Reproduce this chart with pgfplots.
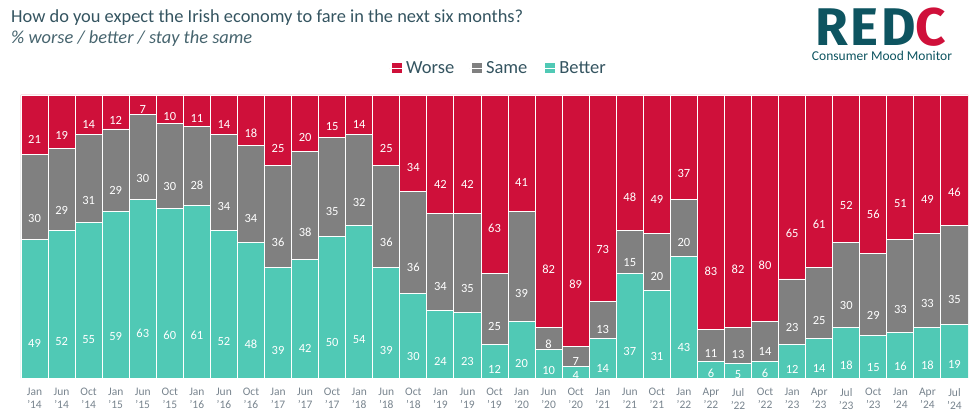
\documentclass[border=0pt]{standalone}
\usepackage{fontspec}
\setmainfont{Carlito}
\newfontfamily\logofont[LetterSpace=5]{Fira Sans}
\usepackage{pgfplots}
\pgfplotsset{compat=1.18}
\usepackage{pgfplotstable}
\definecolor{worse}{RGB}{207,16,58}
\definecolor{same}{RGB}{128,128,128}
\definecolor{better}{RGB}{80,201,181}
\definecolor{titlecol}{RGB}{52,84,96}
\definecolor{subcol}{RGB}{70,100,110}
\definecolor{tickcol}{RGB}{120,132,142}
\definecolor{logoteal}{RGB}{13,84,96}

\pgfplotstableread{
idx better same worse
0 49 30 21
1 52 29 19
2 55 31 14
3 59 29 12
4 63 30 7
5 60 30 10
6 61 28 11
7 52 34 14
8 48 34 18
9 39 36 25
10 42 38 20
11 50 35 15
12 54 32 14
13 39 36 25
14 30 36 34
15 24 34 42
16 23 35 42
17 12 25 63
18 20 39 41
19 10 8 82
20 4 7 89
21 14 13 73
22 37 15 48
23 31 20 49
24 43 20 37
25 6 11 83
26 5 13 82
27 6 14 80
28 12 23 65
29 14 25 61
30 18 30 52
31 15 29 56
32 16 33 51
33 18 33 49
34 19 35 46
}\data

\begin{document}
\begin{tikzpicture}
\begin{axis}[
  name=ax,
  at={(21pt,40pt)}, anchor=south west,
  scale only axis,
  width=947pt, height=283pt,
  ybar stacked,
  bar width=1,
  xmin=-0.5, xmax=34.5,
  ymin=0, ymax=100,
  enlargelimits=false,
  axis x line*=bottom,
  axis y line=none,
  x axis line style={draw=black!25, line width=0.8pt},
  major tick length=0pt,
  xtick={0,...,34},
  xticklabels={{Jan\\'14},{Jun\\'14},{Oct\\'14},{Jan\\'15},{Jun\\'15},{Oct\\'15},{Jan\\'16},{Jun\\'16},{Oct\\'16},{Jan\\'17},{Jun\\'17},{Oct\\'17},{Jan\\'18},{Jun\\'18},{Oct\\'18},{Jan\\'19},{Jun\\'19},{Oct\\'19},{Jan\\'20},{Jun\\'20},{Oct\\'20},{Jan\\'21},{Jun\\'21},{Oct\\'21},{Jan\\'22},{Apr\\'22},{Jul\\'22},{Oct\\'22},{Jan\\'23},{Apr\\'23},{Jul\\'23},{Oct\\'23},{Jan\\'24},{Apr\\'24},{Jul\\'24}},
  xticklabel style={align=center, font=\fontsize{11.5}{13}\selectfont, text=tickcol, yshift=-7pt},
  legend style={at={(0.5,1)}, anchor=south, xshift=4pt, yshift=16pt, draw=none, fill=none,
    legend columns=-1, font=\fontsize{18.5}{20}\selectfont, text=titlecol,
    /tikz/every even column/.append style={column sep=13pt}},
  legend image code/.code={\fill[#1,draw=none] (2pt,-5pt) rectangle (12pt,5pt); \path (0pt,0pt) -- (14pt,0pt);},
  reverse legend,
  point meta=explicit,
  /pgf/number format/assume math mode=true,
  nodes near coords={\pgfmathprintnumber{\val}},
  every node near coord/.append style={font=\fontsize{12.5}{14}\selectfont, text=white, anchor=center, yshift=-\val*0.7075pt},
]
\addplot[fill=better, draw=white, line width=0.9pt,
  visualization depends on={\thisrow{better}\as\val}]
  table[x=idx,y=better,meta=better]{\data};
\addlegendentry{Better}
\addplot[fill=same, draw=white, line width=0.9pt,
  visualization depends on={\thisrow{same}\as\val}]
  table[x=idx,y=same,meta=same]{\data};
\addlegendentry{Same}
\addplot[fill=worse, draw=white, line width=0.9pt,
  visualization depends on={\thisrow{worse}\as\val}]
  table[x=idx,y=worse,meta=worse]{\data};
\addlegendentry{Worse}
\end{axis}
\pgfresetboundingbox
\path[use as bounding box] (0pt,0pt) rectangle (980pt,418pt);
\node[anchor=base west, inner sep=0pt, text=titlecol, font=\fontsize{18.4}{20}\selectfont] at (11pt,395pt) {How do you expect the Irish economy to fare in the next six months?};
\node[anchor=base west, inner sep=0pt, text=subcol, font=\fontsize{18.4}{20}\selectfont\itshape] at (11pt,374pt) {\% worse / better / stay the same};
\node[anchor=base, inner sep=0pt, text depth=0pt, text=logoteal, font=\fontsize{53}{56}\selectfont\logofont\bfseries] at (881pt,372pt) {RED\textcolor{worse}{C}};
\node[anchor=base, inner sep=0pt, text height=9pt, text=logoteal, font=\fontsize{13.5}{15}\selectfont] at (882pt,357pt) {Consumer Mood Monitor};
\end{tikzpicture}
\end{document}
